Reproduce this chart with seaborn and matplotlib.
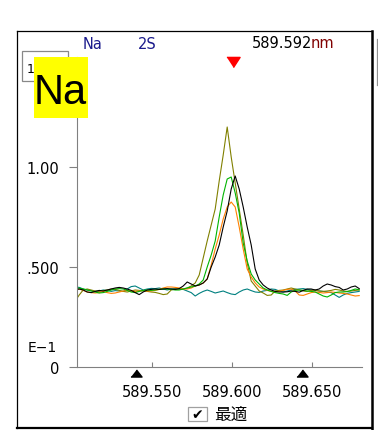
import numpy as np
import pandas as pd
import matplotlib
matplotlib.use("Agg")
import matplotlib.pyplot as plt
import seaborn as sns
from matplotlib.patches import Rectangle
from matplotlib.lines import Line2D
from matplotlib.transforms import blended_transform_factory

# ---------------- data ----------------
wavelength_start = 589.502
wavelength_step = 0.0025
n_points = 72
wavelength = np.round(wavelength_start + wavelength_step * np.arange(n_points), 4)

black_series = [
    0.385, 0.390, 0.385, 0.375, 0.372, 0.378, 0.383, 0.380, 0.385, 0.390,
    0.395, 0.398, 0.395, 0.390, 0.383, 0.372, 0.362, 0.375, 0.385, 0.388,
    0.390, 0.388, 0.390, 0.392, 0.390, 0.388, 0.392, 0.405, 0.425, 0.415,
    0.405, 0.410, 0.420, 0.440, 0.500, 0.550, 0.610, 0.700, 0.780, 0.890,
    0.955, 0.890, 0.800, 0.700, 0.610, 0.490, 0.435, 0.410, 0.395, 0.385,
    0.378, 0.375, 0.375, 0.376, 0.380, 0.378, 0.374, 0.383, 0.390, 0.390,
    0.385, 0.390, 0.405, 0.415, 0.410, 0.402, 0.398, 0.385, 0.390, 0.400,
    0.405, 0.392]
teal_series = [
    0.400, 0.398, 0.390, 0.385, 0.382, 0.378, 0.380, 0.385, 0.383, 0.378,
    0.382, 0.380, 0.378, 0.390, 0.402, 0.405, 0.395, 0.385, 0.390, 0.393,
    0.392, 0.395, 0.390, 0.385, 0.390, 0.392, 0.390, 0.388, 0.380, 0.372,
    0.355, 0.368, 0.378, 0.385, 0.378, 0.370, 0.375, 0.380, 0.372, 0.365,
    0.362, 0.375, 0.385, 0.390, 0.382, 0.375, 0.373, 0.380, 0.383, 0.390,
    0.388, 0.380, 0.375, 0.380, 0.385, 0.388, 0.390, 0.392, 0.388, 0.385,
    0.383, 0.380, 0.378, 0.375, 0.372, 0.360, 0.348, 0.360, 0.368, 0.372,
    0.375, 0.378]
olive_series = [
    0.330, 0.360, 0.385, 0.390, 0.385, 0.380, 0.378, 0.382, 0.385, 0.390,
    0.388, 0.383, 0.378, 0.375, 0.380, 0.385, 0.383, 0.380, 0.378, 0.375,
    0.373, 0.368, 0.362, 0.365, 0.385, 0.390, 0.390, 0.390, 0.395, 0.405,
    0.420, 0.460, 0.545, 0.630, 0.710, 0.790, 0.930, 1.060, 1.200, 1.050,
    0.920, 0.790, 0.660, 0.520, 0.430, 0.405, 0.380, 0.370, 0.358, 0.360,
    0.380, 0.383, 0.385, 0.390, 0.395, 0.390, 0.385, 0.380, 0.378, 0.383,
    0.385, 0.380, 0.378, 0.380, 0.383, 0.388, 0.385, 0.380, 0.378, 0.380,
    0.383, 0.385]
green_series = [
    0.390, 0.395, 0.390, 0.385, 0.380, 0.375, 0.370, 0.372, 0.378, 0.385,
    0.390, 0.392, 0.390, 0.383, 0.375, 0.372, 0.378, 0.383, 0.385, 0.383,
    0.385, 0.388, 0.390, 0.390, 0.388, 0.385, 0.385, 0.390, 0.395, 0.400,
    0.405, 0.415, 0.435, 0.500, 0.560, 0.630, 0.750, 0.860, 0.940, 0.950,
    0.870, 0.770, 0.620, 0.530, 0.465, 0.435, 0.415, 0.395, 0.385, 0.378,
    0.372, 0.368, 0.365, 0.358, 0.375, 0.383, 0.385, 0.383, 0.380, 0.378,
    0.375, 0.365, 0.355, 0.350, 0.360, 0.372, 0.375, 0.375, 0.377, 0.383,
    0.390, 0.386]
orange_series = [
    0.385, 0.390, 0.383, 0.375, 0.372, 0.370, 0.372, 0.378, 0.372, 0.368,
    0.370, 0.375, 0.380, 0.383, 0.380, 0.378, 0.380, 0.383, 0.380, 0.380,
    0.383, 0.388, 0.395, 0.400, 0.400, 0.398, 0.395, 0.390, 0.390, 0.395,
    0.405, 0.410, 0.420, 0.440, 0.510, 0.590, 0.660, 0.740, 0.800, 0.825,
    0.800, 0.700, 0.590, 0.490, 0.450, 0.420, 0.400, 0.390, 0.383, 0.378,
    0.375, 0.378, 0.383, 0.388, 0.390, 0.380, 0.360, 0.358, 0.365, 0.372,
    0.375, 0.373, 0.370, 0.372, 0.375, 0.373, 0.370, 0.368, 0.365, 0.360,
    0.355, 0.357]

series_names = ["teal", "olive", "orange", "green", "black"]
series_colors = {"teal": "#008080", "olive": "#808000", "orange": "#ff8000",
                 "green": "#00b400", "black": "#000000"}
series_values = {"teal": teal_series, "olive": olive_series, "orange": orange_series,
                 "green": green_series, "black": black_series}

x_ticks = [589.55, 589.60, 589.65]
x_tick_labels = ["589.550", "589.600", "589.650"]
y_ticks = [0.0, 0.5, 1.0]
y_tick_labels = ["0", ".500", "1.00"]
marker_black_x = [589.540, 589.6437]
marker_red_x = [589.6006]

df = pd.concat([pd.DataFrame({"wavelength": wavelength, "intensity": series_values[n], "series": n})
                for n in series_names], ignore_index=True)

# ---------------- figure ----------------
W, H = 378, 431
fig = plt.figure(figsize=(W / 100, H / 100), dpi=100)
fig.patch.set_facecolor("white")

def fx(x):
    return x / W

def fy(y):
    return 1 - y / H

ax_l, ax_r, ax_b, ax_t = 77, 362, 368, 58
ax = fig.add_axes([fx(ax_l), fy(ax_b), (ax_r - ax_l) / W, (ax_b - ax_t) / H])
ax.set_facecolor("white")

sns.lineplot(data=df, x="wavelength", y="intensity", hue="series", hue_order=series_names,
             palette=series_colors, estimator=None, sort=False, legend=False,
             linewidth=0.8, ax=ax)

ax.set_xlim(589.6 + (ax_l - 232) / 1600, 589.6 + (ax_r - 232) / 1600)
ax.set_ylim(0, (ax_b - ax_t) / 200)
ax.set_xlabel("")
ax.set_ylabel("")

for s in ["top", "right"]:
    ax.spines[s].set_visible(False)
for s in ["left", "bottom"]:
    ax.spines[s].set_color("#808080")
    ax.spines[s].set_linewidth(0.8)

fs = 10.5
ax.set_xticks(x_ticks)
ax.set_xticklabels(x_tick_labels, fontsize=fs, family="DejaVu Sans")
ax.set_yticks(y_ticks)
ax.set_yticklabels(y_tick_labels, fontsize=fs, family="DejaVu Sans")
ax.tick_params(axis="x", direction="in", length=3.8, width=0.8, color="#808080", pad=12.5)
ax.tick_params(axis="y", direction="out", length=5.8, width=0.8, color="#808080", pad=7)

# markers below axis and red marker at top
tri_up = [(-1, -0.64), (1, -0.64), (0, 0.64)]
tri_dn = [(-1, 0.77), (1, 0.77), (0, -0.77)]
bt = blended_transform_factory(ax.transData, fig.transFigure)
ax.plot(marker_black_x, [fy(373.5)] * len(marker_black_x), linestyle="none", marker=tri_up,
        markersize=8, color="black", transform=bt, clip_on=False)
ax.plot(marker_red_x, [fy(62.5)] * len(marker_red_x), linestyle="none", marker=tri_dn,
        markersize=9.5, color="#ff0000", transform=bt, clip_on=False)

# ---------------- frame ----------------
fig.add_artist(Line2D([fx(17), fx(17)], [fy(32), fy(429)], color="black", lw=0.9))
fig.add_artist(Line2D([fx(17), fx(372)], [fy(32), fy(32)], color="black", lw=0.9))
fig.add_artist(Line2D([fx(371.7), fx(371.7)], [fy(32), fy(430)], color="black", lw=1.8))
fig.add_artist(Line2D([fx(17), fx(372)], [fy(428.8), fy(428.8)], color="black", lw=1.6))
fig.add_artist(Line2D([fx(377), fx(377)], [fy(40), fy(86)], color="#909090", lw=0.9))

# header
fig.text(fx(83), fy(49), "Na", color="#1a1a8c", fontsize=fs, family="DejaVu Sans", va="baseline")
fig.text(fx(138), fy(49), "2S", color="#1a1a8c", fontsize=fs, family="DejaVu Sans", va="baseline")
fig.text(fx(252), fy(48.5), "589.592", color="black", fontsize=fs, family="DejaVu Sans", va="baseline")
fig.text(fx(311), fy(48.5), "nm", color="#800000", fontsize=fs, family="DejaVu Sans", va="baseline")

# small grey box with "1" and yellow element box
fig.add_artist(Rectangle((fx(22.3), fy(81.7)), (67.7 - 22.3) / W, (81.7 - 52.3) / H,
                         facecolor="white", edgecolor="#888888", lw=0.9))
fig.text(fx(27), fy(73), "1", color="black", fontsize=9, family="DejaVu Sans", va="baseline")
fig.add_artist(Rectangle((fx(33.5), fy(119)), (88 - 33.5) / W, (119 - 57.7) / H,
                         facecolor="#ffff00", edgecolor="none"))
fig.text(fx(60.5), fy(104.5), "Na", color="black", fontsize=30, family="Liberation Sans",
         va="baseline", ha="center")

# E-1 label
fig.text(fx(28), fy(352), "E\u22121", color="black", fontsize=10, family="DejaVu Sans", va="baseline")

# checkbox
fig.add_artist(Rectangle((fx(187.5), fy(422)), (207 - 187.5) / W, (422 - 408) / H,
                         facecolor="white", edgecolor="#a0a0a0", lw=0.9))
fig.text(fx(197.3), fy(415.3), "\u2714", color="black", fontsize=10, family="DejaVu Sans",
         ha="center", va="center")
fig.text(fx(214), fy(415.5), "最適", color="black", fontsize=12,
         family=["Noto Sans CJK JP", "DejaVu Sans"], va="center")

fig.savefig("out.png", dpi=100, facecolor="white")
